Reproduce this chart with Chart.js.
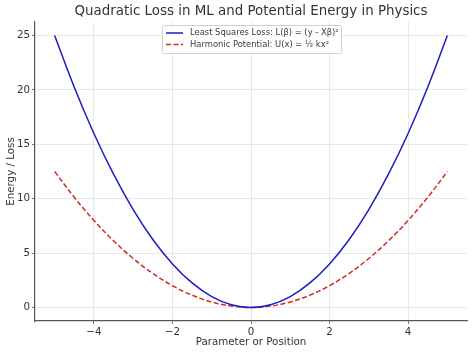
<!DOCTYPE html>
<html>
<head>
<meta charset="utf-8">
<script src="https://cdn.jsdelivr.net/npm/chart.js@4.4.1/dist/chart.umd.min.js"></script>
<style>
  html, body { margin: 0; padding: 0; background: #fff; }
  #wrap { width: 474px; height: 353px; }
</style>
</head>
<body>
<div id="wrap"><canvas id="chart" width="474" height="353"></canvas></div>
<script>
// values
const xValues = [-5, -4.5, -4, -3.5, -3, -2.5, -2, -1.5, -1, -0.5, 0, 0.5, 1, 1.5, 2, 2.5, 3, 3.5, 4, 4.5, 5];
const lossValues = [25, 20.25, 16, 12.25, 9, 6.25, 4, 2.25, 1, 0.25, 0, 0.25, 1, 2.25, 4, 6.25, 9, 12.25, 16, 20.25, 25];
const energyValues = [12.5, 10.125, 8, 6.125, 4.5, 3.125, 2, 1.125, 0.5, 0.125, 0, 0.125, 0.5, 1.125, 2, 3.125, 4.5, 6.125, 8, 10.125, 12.5];
const xTicks = [-4, -2, 0, 2, 4];
const yTicks = [0, 5, 10, 15, 20, 25];
const chartTitle = "Quadratic Loss in ML and Potential Energy in Physics";

const FONT = "'DejaVu Sans', sans-serif";
const BLUE = "#1c1cc4";
const RED = "#d42a22";

// title centred over the plot area, as matplotlib does
const axesTitle = {
    id: "axesTitle",
    afterDraw(chart) {
        const ctx = chart.ctx;
        const a = chart.chartArea;
        ctx.save();
        ctx.font = "13.4px " + FONT;
        ctx.fillStyle = "#333";
        ctx.textAlign = "center";
        ctx.textBaseline = "middle";
        ctx.fillText(chartTitle, (a.left + a.right) / 2, 12);
        ctx.restore();
    }
};

// legend drawn as a boxed overlay inside the plot
const boxLegend = {
    id: "boxLegend",
    afterDatasetsDraw(chart) {
        const ctx = chart.ctx;
        const x0 = 162, y0 = 25, w = 179, h = 28;
        ctx.save();
        ctx.fillStyle = "rgba(255,255,255,0.85)";
        ctx.strokeStyle = "#d0d0d0";
        ctx.lineWidth = 1;
        ctx.beginPath();
        ctx.roundRect(x0 + 0.5, y0 + 0.5, w, h, 2);
        ctx.fill();
        ctx.stroke();
        ctx.font = "8.4px " + FONT;
        ctx.textBaseline = "middle";
        chart.data.datasets.forEach((ds, i) => {
            const y = y0 + 8 + i * 11.5;
            ctx.strokeStyle = ds.borderColor;
            ctx.lineWidth = 1.5;
            ctx.setLineDash(ds.borderDash || []);
            ctx.beginPath();
            ctx.moveTo(x0 + 4, y);
            ctx.lineTo(x0 + 21, y);
            ctx.stroke();
            ctx.setLineDash([]);
            ctx.fillStyle = "#3a3a3a";
            ctx.fillText(ds.label, x0 + 28, y);
        });
        ctx.restore();
    }
};

const fmt = v => (v < 0 ? "\u2212" + Math.abs(v) : String(v));

new Chart(document.getElementById("chart"), {
    type: "line",
    data: {
        datasets: [
            {
                label: "Least Squares Loss: L(\u03b2) = (y - X\u03b2)\u00b2",
                data: xValues.map((x, i) => ({ x: x, y: lossValues[i] })),
                borderColor: BLUE,
                borderWidth: 1.5,
                pointRadius: 0,
                tension: 0.4,
                fill: false
            },
            {
                label: "Harmonic Potential: U(x) = \u00bd kx\u00b2",
                data: xValues.map((x, i) => ({ x: x, y: energyValues[i] })),
                borderColor: RED,
                borderWidth: 1.5,
                borderDash: [5, 2.5],
                pointRadius: 0,
                tension: 0.4,
                fill: false
            }
        ]
    },
    options: {
        responsive: false,
        animation: false,
        layout: { padding: { left: 0, right: 7, top: 22, bottom: 0 } },
        plugins: {
            legend: { display: false },
            tooltip: { enabled: false },
            title: { display: false }
        },
        scales: {
            x: {
                type: "linear",
                min: -5.5,
                max: 5.5,
                afterBuildTicks: s => { s.ticks = xTicks.map(v => ({ value: v })); },
                afterFit: s => { s.height = 32; },
                grid: { color: "#e2e2e2", lineWidth: 0.8, tickLength: 3, tickColor: "#555" },
                border: { color: "#555", width: 1.2 },
                ticks: {
                    color: "#333",
                    padding: 2,
                    maxRotation: 0,
                    font: { family: FONT, size: 10.3 },
                    callback: v => fmt(v)
                },
                title: {
                    display: true,
                    text: "Parameter or Position",
                    color: "#333",
                    font: { family: FONT, size: 10.3 },
                    padding: { top: 0, bottom: 4 }
                }
            },
            y: {
                type: "linear",
                min: -1.25,
                max: 26.25,
                afterBuildTicks: s => { s.ticks = yTicks.map(v => ({ value: v })); },
                afterFit: s => { s.width = 35; },
                grid: { color: "#e2e2e2", lineWidth: 0.8, tickLength: 3, tickColor: "#555" },
                border: { color: "#555", width: 1.2 },
                ticks: {
                    color: "#333",
                    padding: 2,
                    font: { family: FONT, size: 10.3 },
                    callback: v => fmt(v)
                },
                title: {
                    display: true,
                    text: "Energy / Loss",
                    color: "#333",
                    font: { family: FONT, size: 10.3 },
                    padding: { top: 5, bottom: 0 }
                }
            }
        }
    },
    plugins: [boxLegend, axesTitle]
});
</script>
</body>
</html>
